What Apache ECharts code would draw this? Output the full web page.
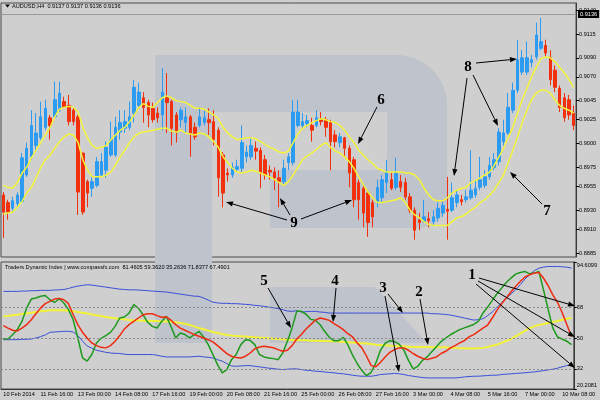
<!DOCTYPE html>
<html><head><meta charset="utf-8">
<script src="https://cdn.jsdelivr.net/npm/echarts@6/dist/echarts.min.js"></script>
<style>html,body{margin:0;padding:0;background:#cfcfcf}#c{width:600px;height:400px}</style>
</head><body><div id="c"></div><script>
// ---------- DATA ----------
const symbolHeader = 'AUDUSD,H4  0.9137 0.9137 0.9136 0.9136';
const tdiHeader = 'Traders Dynamic Index | www.compassfx.com  81.4605 59.3620 35.2636 71.8377 67.4901';
const barCount = 123;
const firstBar = [2014, 1, 10, 8]; // 10 Feb 2014 08:00, H4 bars

const opens = [0.8946,0.8938,0.8932,0.8937,0.8939,0.8967,0.8986,0.8998,0.9006,0.9017,
0.9027,0.9028,0.9035,0.9044,0.9040,0.9035,0.9028,0.8990,0.8960,0.8953,
0.8956,0.8967,0.8972,0.8988,0.8988,0.9012,0.9016,0.9017,0.9032,0.9040,
0.9048,0.9043,0.9037,0.9032,0.9030,0.9048,0.9044,0.9030,0.9025,0.9022,
0.9028,0.9017,0.9019,0.9022,0.9025,0.9023,0.9014,0.8988,0.8969,0.8967,
0.8973,0.8974,0.8986,0.8986,0.8995,0.8993,0.8983,0.8972,0.8970,0.8964,
0.8960,0.8980,0.8980,0.9019,0.9019,0.9021,0.9019,0.9019,0.9025,0.9025,
0.9022,0.9009,0.9001,0.9006,0.8995,0.8983,0.8959,0.8953,0.8948,0.8938,
0.8938,0.8943,0.8959,0.8962,0.8954,0.8960,0.8959,0.8944,0.8930,0.8920,
0.8918,0.8921,0.8918,0.8922,0.8927,0.8931,0.8930,0.8938,0.8941,0.8941,
0.8943,0.8946,0.8954,0.8956,0.8965,0.8975,0.8981,0.9002,0.9011,0.9035,
0.9056,0.9075,0.9075,0.9085,0.9091,0.9100,0.9103,0.9090,0.9077,0.9058,
0.9048,0.9046,0.9032];
const closes = [0.8928,0.8928,0.8940,0.8946,0.8985,0.8995,0.9019,0.9011,0.9028,0.9037,
0.9019,0.9046,0.9053,0.9038,0.9023,0.9023,0.8949,0.8928,0.8948,0.8960,
0.8981,0.8981,0.8996,0.9004,0.9017,0.9022,0.9023,0.9028,0.9059,0.9054,
0.9038,0.9030,0.9025,0.9027,0.9054,0.9043,0.9016,0.9012,0.9035,0.9028,
0.9011,0.9007,0.9028,0.9027,0.9022,0.9004,0.8964,0.8948,0.8967,0.8975,
0.8976,0.9001,0.8991,0.8998,0.8992,0.8969,0.8967,0.8970,0.8964,0.8960,
0.8974,0.8986,0.9033,0.9033,0.9023,0.9024,0.9014,0.9027,0.9023,0.9017,
0.9002,0.9002,0.9007,0.8995,0.8969,0.8941,0.8941,0.8927,0.8917,0.8923,
0.8954,0.8962,0.8970,0.8953,0.8969,0.8954,0.8944,0.8930,0.8909,0.8917,
0.8923,0.8919,0.8923,0.8932,0.8935,0.8929,0.8943,0.8946,0.8939,0.8944,
0.8951,0.8953,0.8962,0.8965,0.8977,0.8983,0.9012,0.9011,0.9038,0.9056,
0.9088,0.9090,0.9090,0.9088,0.9114,0.9107,0.9095,0.9067,0.9059,0.9038,
0.9027,0.9030,0.9019];
const lows = [0.8901,0.8920,0.8928,0.8933,0.8938,0.8965,0.8983,0.8993,0.9004,0.9014,
0.9004,0.9027,0.9033,0.9037,0.9019,0.9019,0.8925,0.8925,0.8933,0.8944,
0.8954,0.8966,0.8964,0.8986,0.8986,0.9004,0.9011,0.9014,0.9022,0.9038,
0.9022,0.9017,0.9022,0.9022,0.9014,0.9011,0.8998,0.9001,0.9017,0.9011,
0.8986,0.9004,0.9017,0.9019,0.9009,0.8998,0.8944,0.8933,0.8960,0.8964,
0.8970,0.8970,0.8980,0.8983,0.8983,0.8953,0.8962,0.8962,0.8951,0.8933,
0.8956,0.8972,0.8977,0.9017,0.9016,0.9017,0.9002,0.9017,0.9019,0.9007,
0.8972,0.8996,0.8996,0.8986,0.8954,0.8933,0.8920,0.8912,0.8902,0.8912,
0.8933,0.8938,0.8948,0.8951,0.8951,0.8949,0.8941,0.8927,0.8899,0.8909,
0.8917,0.8912,0.8914,0.8918,0.8923,0.8899,0.8928,0.8933,0.8935,0.8938,
0.8941,0.8943,0.8951,0.8953,0.8962,0.8972,0.8977,0.8998,0.9009,0.9032,
0.9053,0.9072,0.9072,0.9080,0.9088,0.9098,0.9091,0.9061,0.9054,0.9033,
0.9023,0.9025,0.9014];
const highs = [0.8949,0.8941,0.8944,0.8949,0.8990,0.9001,0.9035,0.9032,0.9044,0.9046,
0.9030,0.9065,0.9065,0.9049,0.9051,0.9038,0.9030,0.8990,0.8962,0.8967,
0.8986,0.8990,0.9002,0.9023,0.9028,0.9035,0.9035,0.9044,0.9067,0.9064,
0.9054,0.9046,0.9043,0.9038,0.9079,0.9074,0.9046,0.9033,0.9038,0.9038,
0.9030,0.9022,0.9038,0.9035,0.9037,0.9035,0.9017,0.8991,0.8974,0.8980,
0.8983,0.9019,0.8998,0.9007,0.9002,0.8996,0.8988,0.8977,0.8975,0.8972,
0.8983,0.8990,0.9046,0.9046,0.9032,0.9030,0.9027,0.9035,0.9033,0.9028,
0.9025,0.9014,0.9011,0.9007,0.8998,0.8986,0.8962,0.8956,0.8951,0.8941,
0.8962,0.8967,0.8983,0.8969,0.8985,0.8967,0.8964,0.8948,0.8933,0.8927,
0.8941,0.8928,0.8930,0.8938,0.8941,0.8965,0.8959,0.8951,0.8946,0.8951,
0.8993,0.8962,0.8986,0.8972,0.8986,0.8990,0.9016,0.9025,0.9053,0.9064,
0.9109,0.9098,0.9107,0.9093,0.9127,0.9132,0.9109,0.9098,0.9082,0.9061,
0.9053,0.9051,0.9040];
const upperBand = [0.8956,0.8954,0.8953,0.8959,0.8969,0.8975,0.8985,0.8993,0.9001,0.9009,
0.9017,0.9028,0.9036,0.9038,0.9039,0.9038,0.9033,0.9017,0.9006,0.8998,
0.8995,0.8996,0.8998,0.9004,0.9009,0.9014,0.9017,0.9023,0.9030,0.9038,
0.9042,0.9039,0.9038,0.9043,0.9048,0.9050,0.9048,0.9045,0.9044,0.9043,
0.9040,0.9037,0.9037,0.9036,0.9033,0.9030,0.9026,0.9017,0.9011,0.9007,
0.9004,0.9005,0.9006,0.9006,0.9005,0.9002,0.8999,0.8996,0.8994,0.8991,
0.8990,0.8992,0.9001,0.9010,0.9016,0.9019,0.9022,0.9024,0.9026,0.9025,
0.9023,0.9022,0.9019,0.9014,0.9007,0.9001,0.8993,0.8988,0.8983,0.8979,
0.8974,0.8972,0.8970,0.8970,0.8970,0.8970,0.8969,0.8969,0.8967,0.8962,
0.8953,0.8946,0.8941,0.8940,0.8940,0.8943,0.8948,0.8951,0.8953,0.8954,
0.8959,0.8961,0.8964,0.8967,0.8970,0.8977,0.8986,0.8995,0.9006,0.9017,
0.9032,0.9046,0.9058,0.9070,0.9080,0.9089,0.9091,0.9090,0.9086,0.9080,
0.9074,0.9067,0.9059];
const lowerBand = [0.8926,0.8927,0.8928,0.8933,0.8939,0.8948,0.8954,0.8964,0.8975,0.8983,
0.8988,0.8995,0.9002,0.9007,0.9010,0.9009,0.9001,0.8983,0.8972,0.8965,
0.8965,0.8965,0.8967,0.8970,0.8977,0.8986,0.8993,0.9001,0.9007,0.9011,
0.9012,0.9013,0.9014,0.9015,0.9016,0.9016,0.9013,0.9012,0.9014,0.9011,
0.9010,0.9009,0.9011,0.9010,0.9007,0.9002,0.8996,0.8986,0.8980,0.8974,
0.8970,0.8969,0.8970,0.8972,0.8971,0.8969,0.8967,0.8965,0.8962,0.8959,
0.8956,0.8960,0.8967,0.8975,0.8983,0.8987,0.8990,0.8994,0.8998,0.9001,
0.8996,0.8992,0.8990,0.8986,0.8981,0.8974,0.8965,0.8957,0.8949,0.8943,
0.8938,0.8938,0.8939,0.8940,0.8941,0.8943,0.8938,0.8930,0.8925,0.8922,
0.8918,0.8915,0.8914,0.8914,0.8914,0.8914,0.8918,0.8922,0.8923,0.8926,
0.8930,0.8933,0.8938,0.8941,0.8946,0.8951,0.8959,0.8967,0.8980,0.8993,
0.9007,0.9022,0.9035,0.9046,0.9053,0.9056,0.9056,0.9053,0.9046,0.9040,
0.9037,0.9035,0.9032];

// Traders Dynamic Index
const tdiPrice = [49.7,49.5,52.0,55.0,59.8,67.6,72.9,73.5,74.5,75.0,
72.5,70.9,73.1,70.6,66.7,60.8,50.1,38.4,36.5,40.4,
47.2,49.9,51.5,53.4,56.9,61.8,62.4,64.7,69.6,67.6,
63.7,59.3,56.9,55.9,59.8,62.8,56.9,50.1,53.0,52.1,
50.1,52.1,54.0,50.7,46.2,40.4,34.5,29.7,31.6,37.4,
40.4,46.2,49.1,48.7,46.2,40.4,39.0,38.4,38.0,37.4,
41.3,48.2,56.0,65.7,65.7,64.0,61.0,60.5,58.0,54.0,
50.5,48.5,48.5,50.5,46.0,40.0,35.0,31.0,28.0,30.0,
35.5,43.0,47.0,48.5,48.0,46.5,43.0,37.0,32.0,33.5,
37.0,39.0,42.0,45.0,48.0,50.0,52.0,53.5,55.0,56.0,
57.0,58.0,59.8,64.7,68.2,72.1,76.0,79.3,82.6,85.2,
87.5,88.5,89.1,87.7,88.1,89.1,78.3,66.7,55.9,50.7,
49.5,48.2,46.2];
const tdiSignal = [57.3,55.9,54.6,54.2,55.9,57.9,60.8,64.3,67.6,70.2,
71.5,72.9,73.3,72.5,70.2,63.7,57.9,53.4,50.1,47.2,
45.6,44.6,44.3,45.6,48.2,51.5,55.4,57.9,59.8,61.8,
63.7,64.3,64.3,63.2,62.2,62.4,60.5,57.9,55.9,54.6,
53.4,52.1,51.1,50.1,49.1,47.8,45.6,43.3,40.9,39.4,
38.6,38.4,39.4,41.3,43.7,44.8,45.2,44.8,44.4,43.3,
42.3,42.9,45.6,49.5,52.1,55.4,57.9,60.5,61.8,61.2,
60.4,58.5,56.9,55.0,52.6,50.7,47.2,44.3,39.4,33.9,
33.2,35.9,39.0,41.7,43.3,44.3,44.3,42.9,41.0,39.4,
38.2,37.4,38.2,39.0,41.0,42.3,44.3,45.6,47.2,48.5,
50.7,52.1,54.0,55.9,57.7,61.8,66.3,70.2,73.5,77.0,
80.3,83.2,85.8,87.1,88.1,88.5,85.2,80.7,75.4,71.0,
65.0,58.0,51.0];
const tdiBase = [62.8,63.0,63.4,63.7,64.1,64.5,64.9,65.3,65.7,65.9,
66.3,66.3,66.3,66.3,66.1,65.7,65.3,64.9,64.5,63.9,
63.4,63.0,62.4,62.0,61.6,61.2,61.0,60.6,60.4,60.4,
60.2,60.2,60.0,60.0,59.8,59.8,59.6,59.3,58.9,58.5,
57.7,56.9,55.9,55.2,54.4,53.6,53.0,52.4,51.9,51.5,
51.3,51.1,50.9,50.7,50.5,50.3,50.1,49.9,49.7,49.5,
49.3,49.1,48.9,48.7,48.7,48.7,48.5,48.5,48.3,48.3,
48.2,48.2,48.0,47.8,47.6,47.4,47.2,47.0,46.8,46.6,
46.2,46.0,45.8,45.6,45.4,45.2,45.2,45.0,44.8,44.8,
44.8,44.8,44.6,44.6,44.6,44.6,44.4,44.3,44.1,44.1,
43.9,43.9,44.1,44.3,44.8,45.6,46.2,47.2,48.3,49.5,
51.1,52.6,54.2,55.8,56.9,57.7,58.3,58.9,59.4,60.0,
60.8,61.4,61.8];
const tdiUpper = [77.4,77.4,77.4,77.4,77.6,77.6,77.8,77.8,78.0,78.0,
78.0,78.2,78.3,78.5,79.1,79.9,80.5,80.9,81.3,81.1,
80.7,80.3,79.9,79.5,79.1,78.7,78.5,78.3,78.3,78.2,
78.0,77.8,77.6,77.4,77.2,77.0,76.6,76.2,75.8,75.4,
75.0,74.6,74.5,73.5,72.3,71.1,70.6,70.4,70.4,70.2,
70.2,70.0,69.8,69.6,69.2,69.0,68.6,68.2,67.8,67.3,
66.7,65.9,65.7,66.1,65.3,65.5,65.7,65.7,65.3,65.1,
64.7,64.7,64.7,64.7,64.7,64.7,64.7,64.7,64.7,64.7,
64.7,64.7,64.7,64.7,64.7,64.7,64.7,64.7,64.7,64.7,
64.7,64.7,64.3,64.3,64.1,63.9,63.5,63.0,62.4,61.8,
61.2,60.6,60.8,61.4,63.2,65.3,68.0,70.6,73.3,75.8,
78.3,81.3,84.6,87.1,89.5,91.0,91.6,92.0,92.0,92.0,
91.8,91.6,91.0];
const tdiLower = [49.1,49.1,49.1,49.1,49.3,49.3,49.5,50.1,50.9,51.9,
53.4,53.6,53.8,54.0,54.0,53.6,51.5,48.3,45.4,44.1,
42.9,42.3,41.7,41.3,41.1,41.0,40.6,40.4,40.4,40.4,
40.4,40.4,40.4,40.0,39.4,39.0,39.0,39.0,39.0,39.0,
39.0,39.2,39.4,39.0,38.8,38.4,37.4,36.5,35.1,33.7,
33.5,33.7,33.9,33.9,33.5,33.2,32.8,32.4,32.2,31.8,
31.6,31.8,32.0,32.0,31.6,31.2,31.0,30.6,30.5,30.2,
29.9,29.7,29.3,29.1,28.7,28.3,27.9,27.7,27.7,27.7,
28.1,28.7,28.9,29.1,29.3,29.1,28.7,28.1,27.7,27.3,
26.9,26.7,26.7,26.7,26.7,26.7,26.7,26.7,26.9,27.3,
27.5,27.7,27.7,27.9,28.1,28.3,28.3,28.7,28.9,29.1,
29.3,29.5,29.7,30.0,30.2,30.6,31.0,31.4,31.8,32.4,
33.2,33.9,34.5];

const priceTicks = [0.9140,0.9115,0.9090,0.9070,0.9045,0.9025,0.9000,0.8975,0.8955,0.8930,0.8910,0.8885];
const priceRange = [0.888085, 0.914755];
const bidPrice = 0.9136;
const tdiTicks = [94.6099, 68, 50, 32, 20.2081];
const tdiLevels = [68, 50, 32];

// annotations: label, label position, arrows [x1,y1,x2,y2] (pixels)
const notes = [
  {t:'6', p:[381,100], a:[[377,107,358,144]]},
  {t:'9', p:[294,223], a:[[287,220,226,202],[290,215,280,198],[301,219,352,200]]},
  {t:'8', p:[468,67], a:[[476,63,517,59],[467,78,454,176],[473,75,498,126]]},
  {t:'7', p:[547,211], a:[[542,204,510,172]]},
  {t:'5', p:[264,281], a:[[268,288,291,328]]},
  {t:'4', p:[335,281], a:[[336,288,333,322]]},
  {t:'3', p:[383,288], a:[[388,294,403,313],[385,296,399,372]]},
  {t:'2', p:[419,292], a:[[420,299,428,345]]},
  {t:'1', p:[472,275], a:[[479,278,575,306],[478,281,575,337],[476,284,575,368]]}
];

// ---------- BUILD ----------
const months = ['Jan','Feb','Mar','Apr','May','Jun','Jul','Aug','Sep','Oct','Nov','Dec'];
const categories = [];
let t = Date.UTC(firstBar[0], firstBar[1], firstBar[2], firstBar[3]);
while (categories.length < barCount) {
  const d = new Date(t);
  const wd = d.getUTCDay();
  if (wd !== 0 && wd !== 6) {
    const hh = String(d.getUTCHours()).padStart(2,'0');
    categories.push(d.getUTCDate() + ' ' + months[d.getUTCMonth()] + ' ' + hh + ':00');
  }
  t += 4 * 3600 * 1000;
}
const firstLabel = categories[0].split(' ').slice(0,2).join(' ') + ' ' + firstBar[0];
const candles = opens.map((o, i) => [o, closes[i], lows[i], highs[i]]);

const BG = '#cfcfcf', WM = '#bfc3cb';
const FONT = '"Liberation Sans", Arial, sans-serif';
const FS = 5.6;

function arrow(x1, y1, x2, y2) {
  const ang = Math.atan2(y2 - y1, x2 - x1), L = 7, W = 2.6;
  const bx = x2 - L * Math.cos(ang), by = y2 - L * Math.sin(ang);
  const px = -Math.sin(ang) * W, py = Math.cos(ang) * W;
  return [
    {type:'line', z:100, silent:true, shape:{x1:x1, y1:y1, x2:bx, y2:by}, style:{stroke:'#000', lineWidth:1}},
    {type:'polygon', z:100, silent:true, shape:{points:[[x2,y2],[bx+px,by+py],[bx-px,by-py]]}, style:{fill:'#000'}}
  ];
}
const graphics = [
  // watermark "R"
  {type:'rect', z:0, silent:true, shape:{x:155, y:55, width:292, height:173, r:[0,50,28,0]}, style:{fill:WM}},
  {type:'rect', z:0, silent:true, shape:{x:155, y:228, width:57, height:115}, style:{fill:WM}},
  {type:'rect', z:0, silent:true, shape:{x:212, y:112, width:175, height:58}, style:{fill:BG}},
  {type:'rect', z:0, silent:true, shape:{x:212, y:170, width:58, height:58}, style:{fill:BG}},
  {type:'polygon', z:0, silent:true, shape:{points:[[270,287],[375,287],[427,343],[270,343]]}, style:{fill:WM}},
  // headers
  {type:'polygon', z:100, silent:true, shape:{points:[[5,4.5],[10,4.5],[7.5,7.5]]}, style:{fill:'#000'}},
  {type:'text', z:100, silent:true, style:{text:symbolHeader, x:12, y:6, fill:'#000', font:FS + 'px ' + FONT, verticalAlign:'middle'}},
  {type:'text', z:100, silent:true, style:{text:tdiHeader, x:5, y:267.5, fill:'#000', font:FS + 'px ' + FONT, verticalAlign:'middle'}}
];
notes.forEach(n => {
  graphics.push({type:'text', z:100, silent:true, style:{text:n.t, x:n.p[0], y:n.p[1], fill:'#000',
    font:'bold 15px "Liberation Serif", "Times New Roman", serif', align:'center', verticalAlign:'middle'}});
  n.a.forEach(a => graphics.push(...arrow(a[0], a[1], a[2], a[3])));
});

const lineSeries = (name, data, color, width, xi, z) => ({
  name, type:'line', data, xAxisIndex:xi, yAxisIndex:xi, symbol:'none', z:z || 3,
  lineStyle:{color, width}, silent:true
});

const upperSeries = lineSeries('Upper', upperBand, '#f4f43a', 1.5, 0);
upperSeries.markLine = {silent:true, symbol:'none', animation:false, precision:4,
  lineStyle:{color:'#9a9a9a', width:1, type:'solid'},
  label:{show:true, position:'end', distance:2, formatter:bidPrice.toFixed(4), backgroundColor:'#000', color:'#fff',
    fontSize:FS, fontFamily:FONT, padding:[1,2,1,2]},
  data:[{yAxis:bidPrice}]};

const tdiLabelFmt = v => v === tdiTicks[0] ? '{hi|' + v + '}' : (v === tdiTicks[tdiTicks.length - 1] ? '{lo|' + v + '}' : String(v));

const option = {
  backgroundColor: BG,
  animation: false,
  graphic: graphics,
  grid: [
    {left:1, top:3, width:575, height:254, show:true, borderColor:'#4a4a4a', borderWidth:1, backgroundColor:'transparent'},
    {left:1, top:262, width:575, height:127, show:true, borderColor:'#4a4a4a', borderWidth:1, backgroundColor:'transparent'}
  ],
  xAxis: [
    {type:'category', gridIndex:0, data:categories, axisLine:{show:false}, axisTick:{show:false}, axisLabel:{show:false}, splitLine:{show:false}},
    {type:'category', gridIndex:1, data:categories,
      axisLine:{lineStyle:{color:'#3a3a3a'}},
      axisTick:{interval:7, alignWithLabel:true, length:3, lineStyle:{color:'#000'}},
      axisLabel:{interval:7, align:'left', margin:2, fontSize:FS, color:'#000', fontFamily:FONT,
        formatter:(v, i) => i === 0 ? firstLabel : v},
      splitLine:{show:false}}
  ],
  yAxis: [
    {type:'value', gridIndex:0, position:'right', min:priceRange[0], max:priceRange[1],
      splitLine:{show:false}, axisLine:{show:true, lineStyle:{color:'#3a3a3a'}},
      axisTick:{show:true, customValues:priceTicks, length:3, lineStyle:{color:'#000'}},
      axisLabel:{customValues:priceTicks, formatter:v => v.toFixed(4), fontSize:FS, margin:3, color:'#000', fontFamily:FONT}},
    {type:'value', gridIndex:1, position:'right', min:tdiTicks[tdiTicks.length - 1], max:tdiTicks[0],
      splitLine:{show:false}, axisLine:{show:true, lineStyle:{color:'#3a3a3a'}},
      axisTick:{show:true, customValues:tdiTicks, length:3, lineStyle:{color:'#000'}},
      axisLabel:{customValues:tdiTicks, formatter:tdiLabelFmt, fontSize:FS, margin:3, color:'#000', fontFamily:FONT,
        rich:{hi:{fontSize:FS, fontFamily:FONT, color:'#000', padding:[7,0,0,0]},
              lo:{fontSize:FS, fontFamily:FONT, color:'#000', padding:[0,0,8,0]}}}}
  ],
  series: [
    {name:'AUDUSD', type:'candlestick', xAxisIndex:0, yAxisIndex:0, data:candles, barWidth:3, z:2, silent:true,
      itemStyle:{color:'#2c9bf2', color0:'#f2300e', borderColor:'#2c9bf2', borderColor0:'#f2300e', borderWidth:1}},
    upperSeries,
    lineSeries('Lower', lowerBand, '#f4f43a', 1.5, 0),
    lineSeries('VB High', tdiUpper, '#3a4fd8', 1, 1),
    lineSeries('VB Low', tdiLower, '#3a4fd8', 1, 1),
    Object.assign(lineSeries('Market Base', tdiBase, '#f2f236', 2, 1), {
      markLine:{silent:true, symbol:'none', animation:false, label:{show:false},
        lineStyle:{color:'#8c8c8c', width:1, type:[2,2]},
        data: tdiLevels.map(v => ({yAxis:v}))}}),
    lineSeries('RSI Price', tdiPrice, '#1c9a1c', 1.5, 1, 4),
    lineSeries('Trade Signal', tdiSignal, '#ee2a10', 1.5, 1, 5)
  ]
};
const chart = echarts.init(document.getElementById('c'), null, {renderer:'canvas'});
chart.setOption(option);
</script></body></html>
